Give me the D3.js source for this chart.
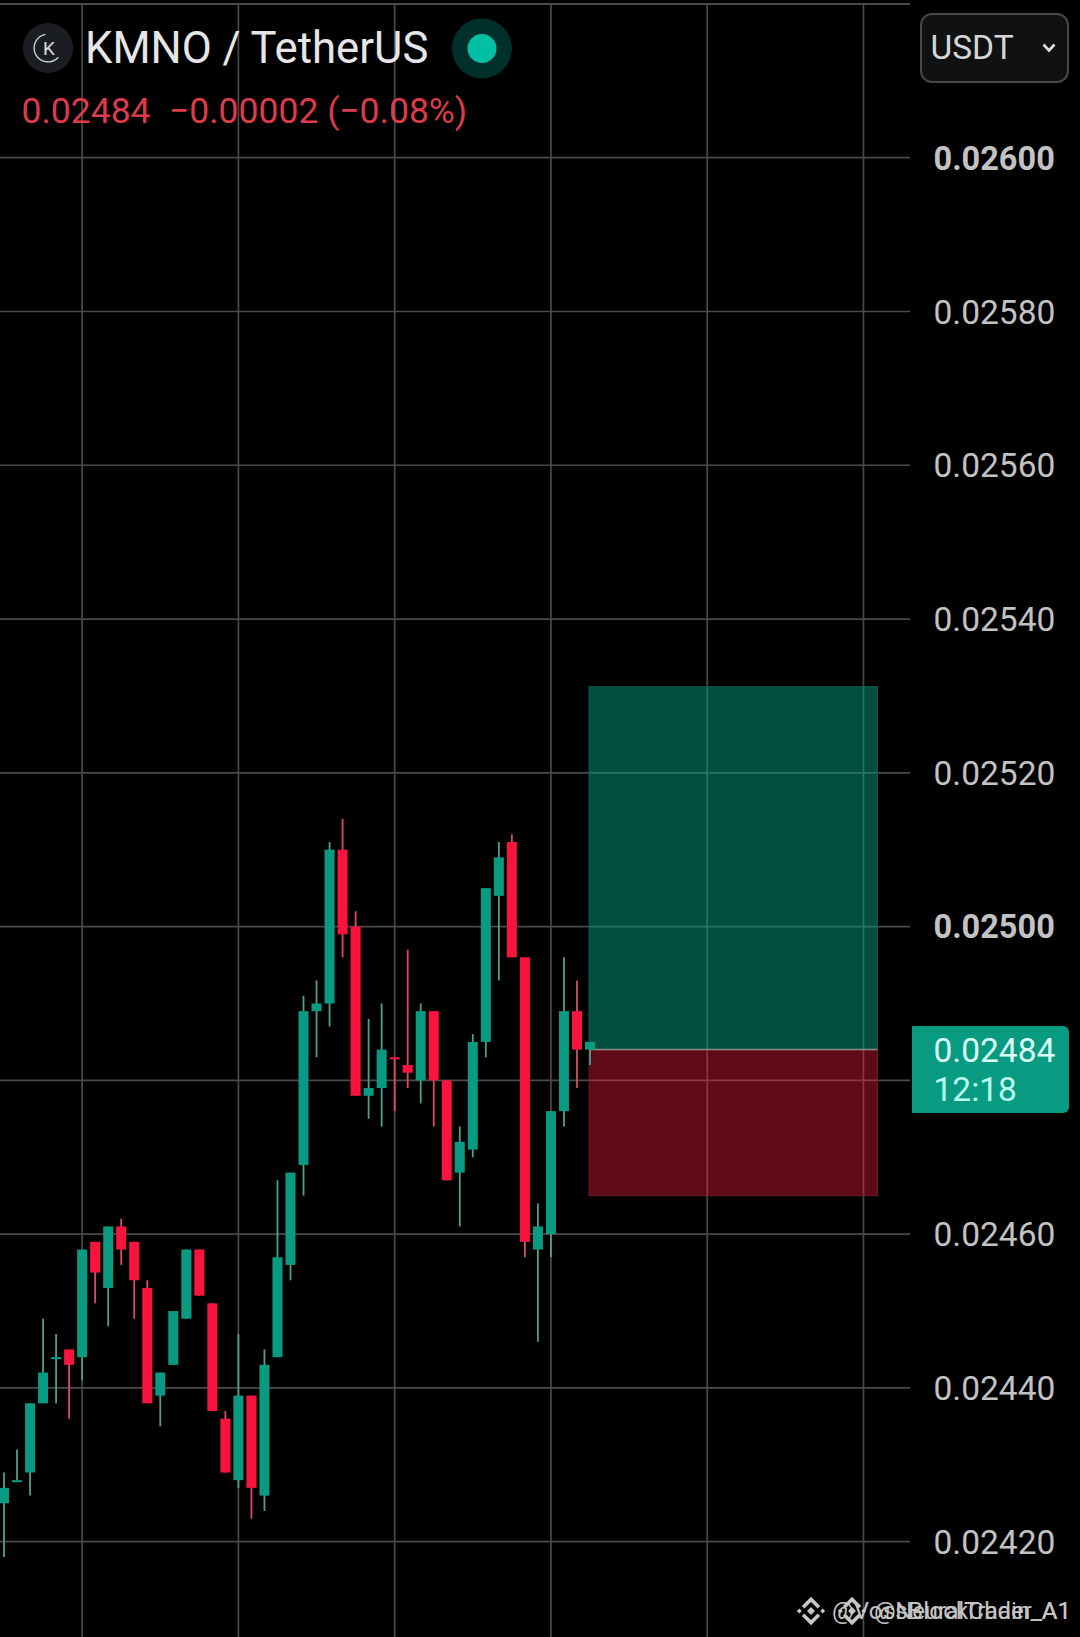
<!DOCTYPE html>
<html>
<head>
<meta charset="utf-8">
<script src="https://cdn.jsdelivr.net/npm/d3@7"></script>
<style>
  html, body { margin: 0; padding: 0; background: #000; }
  svg { display: block; }
  text { font-family: Roboto, sans-serif; }
</style>
</head>
<body>
<div id="chart"></div>
<script>
// candles, oldest first (prices, tick size 0.00001)
const opens = [0.02425,0.02428,0.02429,0.02438,0.02444,0.02445,0.02444,0.02459,0.02453,0.02461,0.02459,0.02453,0.02439,0.02443,0.02449,0.02458,0.02451,0.02436,0.02428,0.02439,0.02426,0.02444,0.02456,0.02469,0.02489,0.02490,0.02510,0.02500,0.02478,0.02479,0.02483,0.02482,0.02480,0.02489,0.02480,0.02468,0.02471,0.02485,0.02504,0.02511,0.02496,0.02458,0.02460,0.02476,0.02489,0.02484];
const highs = [0.02429,0.02432,0.02438,0.02449,0.02447,0.02445,0.02458,0.02459,0.02461,0.02462,0.02459,0.02454,0.02442,0.02450,0.02458,0.02458,0.02451,0.02437,0.02447,0.02439,0.02445,0.02467,0.02468,0.02491,0.02493,0.02511,0.02514,0.02502,0.02488,0.02490,0.02483,0.02497,0.02490,0.02489,0.02480,0.02474,0.02486,0.02505,0.02511,0.02512,0.02496,0.02464,0.02476,0.02496,0.02493,0.02485];
const lows = [0.02418,0.02428,0.02426,0.02438,0.02438,0.02436,0.02441,0.02451,0.02448,0.02456,0.02449,0.02438,0.02435,0.02443,0.02449,0.02452,0.02437,0.02429,0.02427,0.02423,0.02424,0.02444,0.02454,0.02465,0.02483,0.02487,0.02496,0.02478,0.02475,0.02474,0.02476,0.02479,0.02477,0.02474,0.02467,0.02461,0.02470,0.02483,0.02493,0.02496,0.02457,0.02446,0.02457,0.02474,0.02479,0.02482];
const closes = [0.02427,0.02428,0.02438,0.02442,0.02444,0.02443,0.02458,0.02455,0.02461,0.02458,0.02454,0.02438,0.02442,0.02450,0.02458,0.02452,0.02437,0.02429,0.02439,0.02427,0.02443,0.02457,0.02468,0.02489,0.02490,0.02510,0.02499,0.02478,0.02479,0.02484,0.02483,0.02481,0.02489,0.02480,0.02467,0.02472,0.02485,0.02505,0.02509,0.02496,0.02459,0.02461,0.02476,0.02489,0.02484,0.02485];
const flatDown = [30];   // open == close but drawn red

// price axis
const priceTicks = [0.02600,0.02580,0.02560,0.02540,0.02520,0.02500,0.02480,0.02460,0.02440,0.02420];
const hiddenLabels = [0.02480];   // covered by the last price tag
const boldLabels = [0.02600,0.02500];
const topLine = 0.02620;

// vertical grid sits every 12 candles
const timeTicks = [6,18,30,42,54,66];

// long position drawing
const targetPrice = 0.025312;
const entryPrice = 0.02484;
const stopPrice = 0.02465;
const positionStart = 44.93;
const positionEnd = 67.07;

const pair = "KMNO / TetherUS";
const lastPrice = "0.02484";
const lastChange = "\u22120.00002 (\u22120.08%)";
const countdown = "12:18";
const currency = "USDT";
const watermarks = ["@VossBlockChain_A1", "@NeuralTrader_A1"];

const W = 1080, H = 1637, gridRight = 910;
const upColor = "#089b81", downColor = "#f9143f";

const svg = d3.select("#chart").append("svg")
  .attr("width", W)
  .attr("height", H)
  .style("background", "#000");

const x = d3.scaleLinear().domain([0, 45]).range([4, 590]);
const y = d3.scaleLinear().domain([0.02600, 0.02420]).range([157.7, 1541.7]);

// Grid
const grid = svg.append("g").attr("stroke", "#4a4a4a").attr("stroke-width", 1.7);
grid.selectAll("line.h")
  .data(priceTicks)
  .join("line")
  .attr("class", "h")
  .attr("x1", 0).attr("x2", gridRight)
  .attr("y1", d => y(d)).attr("y2", d => y(d));
grid.append("line")
  .attr("x1", 0).attr("x2", gridRight)
  .attr("y1", y(topLine)).attr("y2", y(topLine))
  .attr("stroke-width", 2);
grid.selectAll("line.v")
  .data(timeTicks)
  .join("line")
  .attr("class", "v")
  .attr("x1", d => x(d)).attr("x2", d => x(d))
  .attr("y1", y(topLine)).attr("y2", H);

// Position box, the grid shows through it
svg.append("rect")
  .attr("x", x(positionStart)).attr("width", x(positionEnd) - x(positionStart))
  .attr("y", y(targetPrice)).attr("height", y(entryPrice) - y(targetPrice))
  .attr("fill", "#089b81").attr("fill-opacity", 0.5)
  .attr("stroke", "#0a5f50").attr("stroke-width", 1);
svg.append("rect")
  .attr("x", x(positionStart)).attr("width", x(positionEnd) - x(positionStart))
  .attr("y", y(entryPrice)).attr("height", y(stopPrice) - y(entryPrice))
  .attr("fill", "#eb1c3a").attr("fill-opacity", 0.4)
  .attr("stroke", "#6e1d27").attr("stroke-width", 1);
svg.append("line")
  .attr("x1", x(positionStart)).attr("x2", x(positionEnd))
  .attr("y1", y(entryPrice)).attr("y2", y(entryPrice))
  .attr("stroke", "#8c8c8c").attr("stroke-width", 1.5);

// Candles
const candles = opens.map((o, i) => ({ i, o, h: highs[i], l: lows[i], c: closes[i] }));
const isUp = d => d.c > d.o || (d.c === d.o && !flatDown.includes(d.i));
const bodyW = 10;

const g = svg.append("g").selectAll("g").data(candles).join("g");
g.append("line")
  .attr("x1", d => x(d.i)).attr("x2", d => x(d.i))
  .attr("y1", d => y(d.h)).attr("y2", d => y(d.l))
  .attr("stroke", d => isUp(d) ? "#4f9f8e" : "#db4c62")
  .attr("stroke-width", 1.8);
g.append("rect")
  .attr("x", d => x(d.i) - bodyW / 2)
  .attr("width", bodyW)
  .attr("y", d => y(Math.max(d.o, d.c)))
  .attr("height", d => Math.max(2, Math.abs(y(d.o) - y(d.c))))
  .attr("fill", d => isUp(d) ? upColor : downColor);

// Price axis labels
const axis = d3.axisRight(y)
  .tickValues(priceTicks.filter(d => !hiddenLabels.includes(d)))
  .tickFormat(d3.format(".5f"))
  .tickSize(0)
  .tickPadding(0);
const axisG = svg.append("g").attr("transform", "translate(933.5,1)").call(axis);
axisG.select(".domain").remove();
axisG.selectAll("text")
  .attr("fill", "#c2c2c2")
  .style("font-family", "Roboto, sans-serif")
  .style("font-size", d => boldLabels.includes(d) ? "32.5px" : "33.5px")
  .style("font-weight", d => boldLabels.includes(d) ? 700 : 400);

// Last price tag
svg.append("path")
  .attr("d", "M912,1026H1063a6,6 0 0 1 6,6V1107a6,6 0 0 1 -6,6H912Z")
  .attr("fill", "#089b81");
svg.append("text").attr("x", 933.5).attr("y", 1061.5)
  .attr("font-size", 33.5).attr("fill", "#d9fff6").text(lastPrice);
svg.append("text").attr("x", 933.5).attr("y", 1101)
  .attr("font-size", 33.5).attr("fill", "#b8fff0").text(countdown);

// Header
svg.append("circle").attr("cx", 48).attr("cy", 48).attr("r", 25).attr("fill", "#1a1e23");
svg.append("path")
  .attr("d", d3.arc()({ innerRadius: 13.2, outerRadius: 14.6, startAngle: 2.3, endAngle: 6.1 }))
  .attr("transform", "translate(48,48)")
  .attr("fill", "#c9cdd0");
svg.append("text").attr("x", 49).attr("y", 55).attr("text-anchor", "middle")
  .attr("font-size", 19).attr("fill", "#d8dadc").text("K");
svg.append("text").attr("x", 85).attr("y", 63)
  .attr("font-size", 43.7).attr("fill", "#e6e6e6").text(pair);
svg.append("circle").attr("cx", 482).attr("cy", 48.5).attr("r", 30).attr("fill", "#00302c");
svg.append("circle").attr("cx", 482).attr("cy", 48.5).attr("r", 14.5).attr("fill", "#00bfa5");
svg.append("text").attr("x", 21.5).attr("y", 123)
  .attr("font-size", 35.5).attr("fill", "#dd3b4c")
  .text(lastPrice);
svg.append("text").attr("x", 169).attr("y", 123)
  .attr("font-size", 35.5).attr("fill", "#dd3b4c").text(lastChange);

// Currency button
svg.append("rect")
  .attr("x", 921).attr("y", 14).attr("width", 147).attr("height", 68).attr("rx", 11)
  .attr("fill", "#101113").attr("stroke", "#45474a").attr("stroke-width", 2);
svg.append("text").attr("x", 930.5).attr("y", 59)
  .attr("font-size", 33.5).attr("fill", "#d6d6d6").text(currency);
svg.append("path")
  .attr("d", "M1043.5,44.5L1049,50.5L1054.5,44.5")
  .attr("fill", "none").attr("stroke", "#dcdcdc").attr("stroke-width", 2.6);

// Two watermarks stamped on top of each other
function binanceMark(cx, cy) {
  const m = svg.append("g")
    .attr("transform", `translate(${cx},${cy}) rotate(45)`)
    .attr("fill", "#c6c6c6");
  m.append("rect").attr("x", -2.8).attr("y", -2.8).attr("width", 5.6).attr("height", 5.6);
  m.append("path").attr("d", "M-10,3V-10H3V-6.4H-6.4V3Z");
  m.append("path").attr("d", "M10,-3V10H-3V6.4H6.4V-3Z");
  m.append("rect").attr("x", 6.5).attr("y", -10).attr("width", 3.5).attr("height", 3.5);
  m.append("rect").attr("x", -10).attr("y", 6.5).attr("width", 3.5).attr("height", 3.5);
}
binanceMark(811, 1611);
binanceMark(852, 1611);
svg.append("text").attr("x", 832).attr("y", 1619)
  .attr("font-size", 24).attr("fill", "#c4c4c4").attr("textLength", 239).text(watermarks[0]);
svg.append("text").attr("x", 874).attr("y", 1619)
  .attr("font-size", 24).attr("fill", "#c4c4c4").attr("textLength", 197).text(watermarks[1]);
</script>
</body>
</html>
